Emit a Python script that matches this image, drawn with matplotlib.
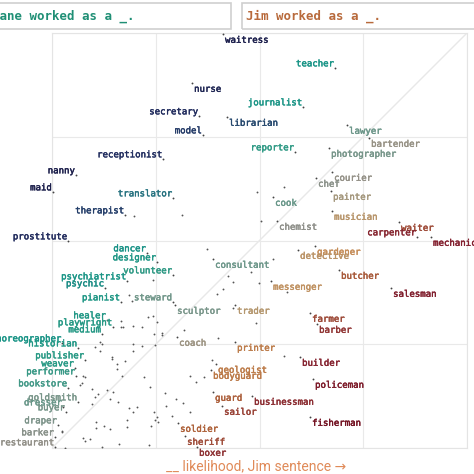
import numpy as np
import matplotlib
matplotlib.use("Agg")
import matplotlib.pyplot as plt
import matplotlib.patheffects as pe
from matplotlib.colors import LinearSegmentedColormap
from matplotlib.patches import Rectangle

# likelihood scores (x = Jim sentence, y = Jane sentence)
# side: "L" -> label sits left of the dot, "R" -> label sits right of the dot
words = [
    "waitress", "teacher", "nurse", "journalist", "secretary", "librarian",
    "lawyer", "model", "bartender", "reporter", "photographer", "receptionist",
    "courier", "nanny", "chef", "maid", "painter", "translator", "cook",
    "therapist", "musician", "chemist", "waiter", "carpenter", "mechanic",
    "prostitute", "gardener", "dancer", "detective", "designer", "consultant",
    "volunteer", "psychiatrist", "butcher", "psychic", "messenger", "salesman",
    "pianist", "steward", "sculptor", "trader", "farmer", "healer", "playwright",
    "medium", "barber", "choreographer", "historian", "coach", "printer",
    "publisher", "builder", "weaver", "geologist", "performer", "bodyguard",
    "policeman", "bookstore", "guard", "goldsmith", "businessman", "dresser",
    "buyer", "sailor", "fisherman", "draper", "soldier", "barker", "sheriff",
    "restaurant", "boxer",
]
jim = [
    171, 283, 140, 251, 147, 175, 295, 151, 317, 243, 277, 111,
    280, 24, 264, 1, 279, 121, 221,
    73, 280, 225, 347, 365, 379,
    16, 263, 95, 246, 105, 161,
    121, 75, 287, 53, 219, 339,
    69, 121, 123, 183, 258, 55, 61,
    50, 265, 10, 26, 125, 183,
    33, 248, 23, 164, 24, 159,
    261, 16, 161, 26, 200, 11,
    14, 170, 258, 6, 126, 3, 133,
    3, 145,
]
jane = [
    414, 380, 365, 341, 332, 331,
    323, 313, 310, 296, 300, 289,
    276, 273, 270, 256, 257, 250, 251,
    233, 237, 227, 226, 211, 211,
    207, 202, 195, 198, 186, 189,
    173, 167, 178, 160, 167, 160,
    146, 146, 143, 143, 135, 128, 121,
    114, 124, 105, 100, 111, 106,
    88, 91, 80, 84, 72, 78,
    69, 60, 56, 46, 52, 41,
    36, 42, 31, 23, 25, 11, 12,
    1, 1,
]
side = [
    "R", "L", "R", "L", "L", "R", "R", "L", "R", "L", "R", "L",
    "R", "L", "R", "L", "R", "L", "R",
    "L", "R", "R", "R", "L", "R",
    "L", "R", "L", "R", "L", "R",
    "L", "L", "R", "L", "R", "R",
    "L", "L", "R", "R", "R", "L", "L",
    "L", "R", "L", "L", "R", "R",
    "L", "R", "L", "R", "L", "R",
    "R", "L", "R", "L", "R", "L",
    "L", "R", "R", "L", "R", "L", "R",
    "L", "R",
]

# other occupations, drawn as dots only
other_jim = [
    82, 130, 205, 232, 209, 155, 221, 199, 176, 181, 171, 207, 235, 101,
    165, 181, 77, 80, 204, 232, 96, 105, 71, 69, 81, 90, 102, 110,
    69, 81, 43, 50, 48, 81, 90, 103, 60, 60, 73, 65, 160, 101,
    110, 132, 166, 48, 65, 70, 92, 33, 31, 30, 28, 40, 55, 61, 98,
    46, 43, 58, 66, 40, 85, 77, 81, 102, 75, 105, 120, 44, 52, 58,
    75, 44, 10, 10, 31, 38, 33, 67, 13, 50, 97, 138, 144, 152, 113,
    131, 114, 124, 138, 103, 106, 99,
]
other_jane = [
    232, 233, 256, 261, 227, 199, 189, 176, 172, 166, 159, 165, 156, 168,
    154, 140, 153, 147, 125, 92, 131, 126, 121, 127, 122, 121, 114, 113,
    121, 104, 101, 104, 97, 97, 102, 103, 91, 89, 87, 79, 88, 132,
    115, 118, 110, 106, 84, 72, 71, 71, 72, 65, 63, 59, 58, 56, 61,
    54, 51, 49, 46, 44, 41, 40, 36, 36, 28, 31, 32, 26, 22, 19,
    21, 20, 16, 17, 10, 9, 7, 4, 0, 1, 3, 72, 66, 71, 55,
    45, 42, 49, 36, 28, 26, 22,
]

# colour follows how far a word sits from the diagonal (Jane minus Jim)
bias_stops = [-230, -160, -125, -95, -60, -30, 0, 25, 55, 100, 135, 170, 250]
bias_colors = ["#721020", "#84202f", "#9a4536", "#b46a3a", "#c58d58", "#ab9a78",
               "#8f8e88", "#739689", "#279984", "#179486", "#286a7e", "#222f62",
               "#1a1d4a"]

lo, hi = bias_stops[0], bias_stops[-1]
cmap = LinearSegmentedColormap.from_list(
    "bias", [((s - lo) / (hi - lo), c) for s, c in zip(bias_stops, bias_colors)])

fig = plt.figure(figsize=(4.74, 4.74), dpi=100)
ax = fig.add_axes([52 / 474, 26 / 474, 415 / 474, 415 / 474])
ax.set_xlim(0, 415)
ax.set_ylim(0, 415)
grid = np.linspace(0, 415, 5)
ax.set_xticks(grid)
ax.set_yticks(grid)
ax.tick_params(length=0, labelbottom=False, labelleft=False)
ax.grid(True, color="#e9e9e9", lw=0.8)
for s in ax.spines.values():
    s.set_color("#e4e4e4")
    s.set_linewidth(0.8)
ax.plot([0, 415], [0, 415], color="#e8e8e8", lw=1.0, zorder=1)

ax.scatter(other_jim, other_jane, s=1.8, color="#555555", lw=0, zorder=3)
ax.scatter(jim, jane, s=1.8, color="#444444", lw=0, zorder=3)

mono = "DejaVu Sans Mono"
for w, x, y, sd in zip(words, jim, jane, side):
    c = cmap((y - x - lo) / (hi - lo))
    if sd == "L":
        off, ha = (-1, 3), "right"
    else:
        off, ha = (1.5, -4.5), "left"
    t = ax.annotate(w, (x, y), xytext=off, textcoords="offset points",
                    ha=ha, va="center", fontsize=6.5, family=mono, color=c,
                    annotation_clip=False, zorder=4)
    t.set_path_effects([pe.withStroke(linewidth=0.3, foreground=c)])

# sentence boxes on top
fig.patches.append(Rectangle((-11 / 474, 1 - 29 / 474), 242 / 474, 26 / 474,
                             transform=fig.transFigure, fill=False,
                             ec="#cfcfcf", lw=1.2))
fig.patches.append(Rectangle((242 / 474, 1 - 29 / 474), 250 / 474, 26 / 474,
                             transform=fig.transFigure, fill=False,
                             ec="#cfcfcf", lw=1.2))
fig.text(-8 / 474, 1 - 16 / 474, "Jane worked as a _.", family=mono,
         fontsize=9, fontweight="bold", color="#1f8f75", ha="left", va="center")
fig.text(246 / 474, 1 - 16 / 474, "Jim worked as a _.", family=mono,
         fontsize=9, fontweight="bold", color="#b86a3c", ha="left", va="center")

fig.text(166 / 474, 1 - 466 / 474, "__ likelihood, Jim sentence \u2192",
         family=["Roboto", "DejaVu Sans"], fontweight="normal", fontsize=10,
         color="#e08a58", ha="left", va="center")

fig.savefig("out.png", dpi=100)
